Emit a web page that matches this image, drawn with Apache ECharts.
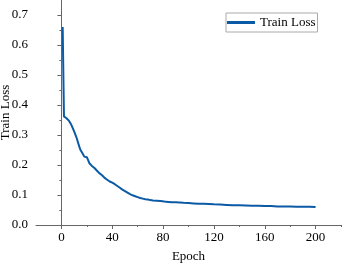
<!DOCTYPE html>
<html><head><meta charset="utf-8">
<script src="https://cdn.jsdelivr.net/npm/echarts@6/dist/echarts.min.js"></script>
<style>html,body{margin:0;padding:0;background:#fff}#c{width:342px;height:264px}</style>
</head><body><div id="c"></div>
<script>
const epochs = [1,2,3,4,5,6,7,8,9,10,11,12,13,14,15,16,17,18,19,20,21,22,23,24,25,26,27,28,29,30,31,32,33,34,35,36,37,38,39,40,42,44,46,48,50,52,54,56,58,60,62,64,66,68,70,72,75,78,81,84,87,90,93,96,100,104,108,112,116,120,125,130,135,140,145,150,155,160,165,170,175,180,185,190,195,200];
const trainLoss = [0.660,0.362,0.358,0.356,0.352,0.347,0.340,0.332,0.322,0.312,0.301,0.290,0.276,0.262,0.250,0.243,0.236,0.228,0.222,0.226,0.216,0.206,0.200,0.197,0.193,0.190,0.186,0.181,0.177,0.172,0.169,0.166,0.162,0.157,0.154,0.151,0.148,0.145,0.143,0.141,0.136,0.130,0.124,0.118,0.113,0.108,0.103,0.099,0.096,0.093,0.090,0.088,0.086,0.085,0.083,0.082,0.081,0.080,0.078,0.077,0.076,0.076,0.075,0.074,0.073,0.072,0.071,0.071,0.070,0.069,0.068,0.067,0.066,0.066,0.065,0.064,0.064,0.063,0.063,0.062,0.062,0.062,0.061,0.061,0.061,0.060];
const xMajor = [0,40,80,120,160,200];
const xMinor = [20,60,100,140,180,220];
const yMajor = [0,0.1,0.2,0.3,0.4,0.5,0.6,0.7];
const yMinor = [0.05,0.15,0.25,0.35,0.45,0.55,0.65];

const font = "'Liberation Serif', 'Times New Roman', serif";
const axisColor = '#666';
const chart = echarts.init(document.getElementById('c'));
chart.setOption({
  animation: false,
  textStyle: {fontFamily: font},
  grid: {left: 36, right: 1, top: 0, bottom: 39, outerBoundsMode: 'none'},
  legend: {
    left: 226, top: 13, padding: [3, 2, 3, 1],
    borderColor: '#aaa', borderWidth: 1, borderRadius: 0,
    icon: 'rect', itemWidth: 28, itemHeight: 3,
    textStyle: {fontFamily: font, fontSize: 13, color: '#000'},
    data: ['Train Loss']
  },
  xAxis: [{
    type: 'value', min: -20, max: 220, interval: 20,
    name: 'Epoch', nameLocation: 'middle', nameGap: 25, nameMoveOverlap: false,
    nameTextStyle: {fontFamily: font, fontSize: 13, color: '#000'},
    axisLine: {lineStyle: {color: axisColor, width: 1}},
    axisTick: {length: 4, customValues: xMajor, lineStyle: {color: axisColor}},
    axisLabel: {customValues: xMajor, fontFamily: font, fontSize: 13, color: '#000', margin: 6},
    splitLine: {show: false}
  }, {
    type: 'value', min: -20, max: 220, position: 'bottom', offset: 0,
    axisLine: {show: false},
    axisTick: {length: 2, customValues: xMinor, lineStyle: {color: axisColor}},
    axisLabel: {show: false},
    splitLine: {show: false}
  }],
  yAxis: [{
    type: 'value', min: 0, max: 0.75,
    name: 'Train Loss', nameLocation: 'middle', nameGap: 24, nameMoveOverlap: false,
    nameTextStyle: {fontFamily: font, fontSize: 13, color: '#000'},
    axisLine: {show: true, lineStyle: {color: axisColor, width: 1}},
    axisTick: {show: true, length: 4, customValues: yMajor, lineStyle: {color: axisColor}},
    axisLabel: {customValues: yMajor, formatter: v => v.toFixed(1), fontFamily: font, fontSize: 13, color: '#000', margin: 8},
    splitLine: {show: false}
  }, {
    type: 'value', min: 0, max: 0.75, position: 'left', offset: 0,
    axisLine: {show: false},
    axisTick: {show: true, length: 2, customValues: yMinor, lineStyle: {color: axisColor}},
    axisLabel: {show: false},
    splitLine: {show: false}
  }],
  series: [{
    name: 'Train Loss', type: 'line', xAxisIndex: 0, yAxisIndex: 0,
    data: epochs.map((e, i) => [e, trainLoss[i]]),
    symbol: 'none', lineStyle: {color: '#0b5aa6', width: 2}, itemStyle: {color: '#0b5aa6'}
  }]
});
</script></body></html>
